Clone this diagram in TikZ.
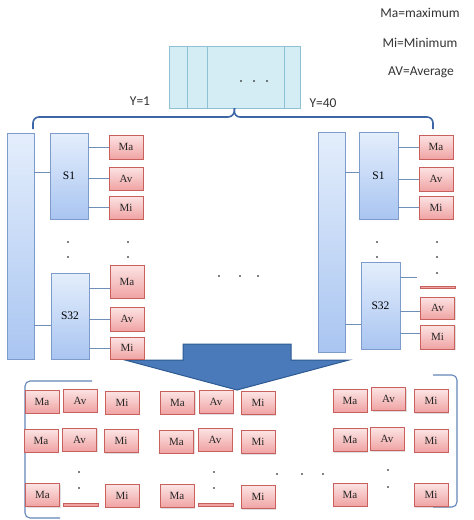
\documentclass[tikz,border=0pt]{standalone}
\usepackage{fontspec}
\setmainfont{Liberation Serif}
\newfontfamily\keyfont{Carlito}
\usetikzlibrary{shadows}

\definecolor{redtop}{HTML}{FCE4E4}
\definecolor{redbot}{HTML}{F0A3A3}
\definecolor{redline}{HTML}{C8605E}
\definecolor{bluetop}{HTML}{E4EEFC}
\definecolor{bluebot}{HTML}{A9C5F1}
\definecolor{blueline}{HTML}{7E9CCB}
\definecolor{regfill}{HTML}{D4EDF4}
\definecolor{regline}{HTML}{8EC2D3}
\definecolor{bracecol}{HTML}{3C66A6}
\definecolor{arrowfill}{HTML}{4A7AB9}
\definecolor{arrowline}{HTML}{2E5A93}
\definecolor{linkcol}{HTML}{6F8FB8}

\begin{document}
\begin{tikzpicture}[x=1pt,y=-1pt,
  redbox/.style={draw=redline,top color=redtop,bottom color=redbot,text=black!85,
    minimum width=34pt,minimum height=23pt,inner sep=0pt,font=\fontsize{11}{12}\selectfont,
    drop shadow={shadow xshift=1pt,shadow yshift=-1pt,opacity=0.25}},
  redcut/.style={draw=redline,fill=redbot,minimum width=35pt,minimum height=3pt,inner sep=0pt},
  bluebox/.style={draw=blueline,top color=bluetop,bottom color=bluebot,inner sep=0pt,
    font=\fontsize{11.5}{13}\selectfont},
  link/.style={draw=linkcol,line width=0.8pt},
  brace/.style={draw=bracecol,line width=1.6pt,rounded corners=6pt},
  bracket/.style={draw=bracecol!80,line width=1.1pt,rounded corners=5pt},
  key/.style={font=\keyfont\fontsize{13.5}{15}\selectfont,text=black!80}]
  \useasboundingbox (0,0) rectangle (474,520);
  % legend
  \node[key] (kma) at (420,13) {Ma=maximum};
  \node[key] (kmi) at (420,43) {Mi=Minimum};
  \node[key] (kav) at (421,72) {AV=Average};
  % register on top
  \node[draw=regline,fill=regfill,minimum width=131pt,minimum height=62pt,inner sep=0pt] (reg) at (234.5,77) {};
  \draw[regline] (187,46) -- (187,108);
  \draw[regline] (207,46) -- (207,108);
  \draw[regline] (284,46) -- (284,108);
  \fill (241,81) circle (0.8) (254,81) circle (0.8) (267,81) circle (0.8);
  \node[key] (ylo) at (140,101) {Y=1};
  \node[key] (yhi) at (323,103) {Y=40};
  \draw[brace] (33,129) |- (234,117) -- (reg.south);
  \draw[brace] (reg.south) -- (234,117) -| (433,129);
  % big arrow
  \draw[fill=arrowfill,draw=arrowline,line width=1pt] (183,344) -- (291,344) -- (291,360) -- (349,360)
    -- (237,390) -- (125,360) -- (183,360) -- cycle;
  % left column
  \node[bluebox,minimum width=27pt,minimum height=226pt] (lbar) at (20.5,246) {};
  \node[bluebox,minimum width=38pt,minimum height=86pt] (ls1) at (69,176) {S1};
  \node[bluebox,minimum width=38pt,minimum height=86pt] (ls32) at (70,316) {S32};
  \node[redbox,minimum height=24pt] (lma1) at (126,147) {Ma};
  \node[redbox] (lav1) at (126,178.5) {Av};
  \node[redbox] (lmi1) at (126,207.5) {Mi};
  \node[redbox,minimum height=33pt] (lma2) at (127,281.5) {Ma};
  \node[redbox,minimum height=24pt] (lav2) at (127,319) {Av};
  \node[redbox,minimum height=22pt] (lmi2) at (127,348) {Mi};
  \draw[link] ([yshift=4pt]ls1.west) -- ([yshift=4pt]ls1.west -| lbar.east);
  \draw[link] ([yshift=-9pt]ls32.west) -- ([yshift=-9pt]ls32.west -| lbar.east);
  \draw[link] (ls1.east |- lma1.west) -- (lma1.west);
  \draw[link] (ls1.east |- lav1.west) -- (lav1.west);
  \draw[link] (ls1.east |- lmi1.west) -- (lmi1.west);
  \draw[link] ([yshift=-6.5pt]lma2.west -| ls32.east) -- ([yshift=-6.5pt]lma2.west);
  \draw[link] (ls32.east |- lav2.west) -- (lav2.west);
  \draw[link] (ls32.east |- lmi2.west) -- (lmi2.west);
  \fill (68,242) circle (0.8) (68,257) circle (0.8) (128,242) circle (0.8) (128,257) circle (0.8);
  \fill (219,276) circle (0.8) (240,276) circle (0.8) (258,276) circle (0.8);
  % right column
  \node[bluebox,minimum width=27pt,minimum height=220pt] (rbar) at (331.5,242) {};
  \node[bluebox,minimum width=39pt,minimum height=87pt] (rs1) at (378.5,175.5) {S1};
  \node[bluebox,minimum width=39pt,minimum height=87pt] (rs32) at (380.5,305.5) {S32};
  \node[redbox,minimum height=24pt] (rma1) at (436,147) {Ma};
  \node[redbox,minimum height=24pt] (rav1) at (436,179) {Av};
  \node[redbox] (rmi1) at (436,207.5) {Mi};
  \node[redcut,minimum height=2pt] (rcut) at (437.5,287) {};
  \node[redbox,minimum height=22pt] (rav2) at (437.5,308) {Av};
  \node[redbox,minimum height=24pt] (rmi2) at (437.5,337) {Mi};
  \coordinate (rend) at (417,277);
  \draw[link] ([yshift=3.5pt]rs1.west) -- ([yshift=3.5pt]rs1.west -| rbar.east);
  \draw[link] ([yshift=-18.5pt]rs32.west) -- ([yshift=-18.5pt]rs32.west -| rbar.east);
  \draw[link] (rs1.east |- rma1.west) -- (rma1.west);
  \draw[link] (rs1.east |- rav1.west) -- (rav1.west);
  \draw[link] (rs1.east |- rmi1.west) -- (rmi1.west);
  \draw[link] (rs32.east |- rend) -- (rend);
  \draw[link] ([yshift=-3pt]rav2.west -| rs32.east) -- ([yshift=-3pt]rav2.west);
  \draw[link] ([yshift=4pt]rmi2.west -| rs32.east) -- ([yshift=4pt]rmi2.west);
  \fill (377,242) circle (0.8) (377,257) circle (0.8);
  \fill (437,242) circle (0.8) (437,257) circle (0.8) (437,273) circle (0.8);
  % result table
  \draw[bracket] (92,381) -| (25,518) -- (60,518);
  \draw[bracket] (433,375) -| (457,507) -- (433,507);
  \node[redbox] (ama1) at (42,401.5) {Ma};
  \node[redbox] (aav1) at (80,400.5) {Av};
  \node[redbox] (ami1) at (122,402.5) {Mi};
  \node[redbox] (bma1) at (177.5,402.5) {Ma};
  \node[redbox] (bav1) at (216,402) {Av};
  \node[redbox] (bmi1) at (258,403) {Mi};
  \node[redbox] (cma1) at (350,400.5) {Ma};
  \node[redbox] (cav1) at (388.5,399) {Av};
  \node[redbox] (cmi1) at (431,401) {Mi};
  \node[redbox] (ama2) at (41,440.5) {Ma};
  \node[redbox] (aav2) at (79.5,439.5) {Av};
  \node[redbox] (ami2) at (121,441) {Mi};
  \node[redbox] (bma2) at (176.5,441.5) {Ma};
  \node[redbox] (bav2) at (215,439.5) {Av};
  \node[redbox] (bmi2) at (258,442) {Mi};
  \node[redbox] (cma2) at (350,440) {Ma};
  \node[redbox] (cav2) at (387,439) {Av};
  \node[redbox] (cmi2) at (431,440.5) {Mi};
  \node[redbox] (ama3) at (42.5,495) {Ma};
  \node[redcut] (acut) at (80.5,504.5) {};
  \node[redbox] (ami3) at (122,495.5) {Mi};
  \node[redbox] (bma3) at (177,496) {Ma};
  \node[redcut] (bcut) at (216,504.5) {};
  \node[redbox] (bmi3) at (258,497) {Mi};
  \node[redbox] (cma3) at (350,494.5) {Ma};
  \node[redbox] (cmi3) at (431,495) {Mi};
  \fill (79,472) circle (0.8) (79,488) circle (0.8) (214,472) circle (0.8) (214,488) circle (0.8);
  \fill (388,470) circle (0.8) (388,487) circle (0.8);
  \fill (277,474) circle (0.8) (302,474) circle (0.8) (323,474) circle (0.8);
\end{tikzpicture}
\end{document}
